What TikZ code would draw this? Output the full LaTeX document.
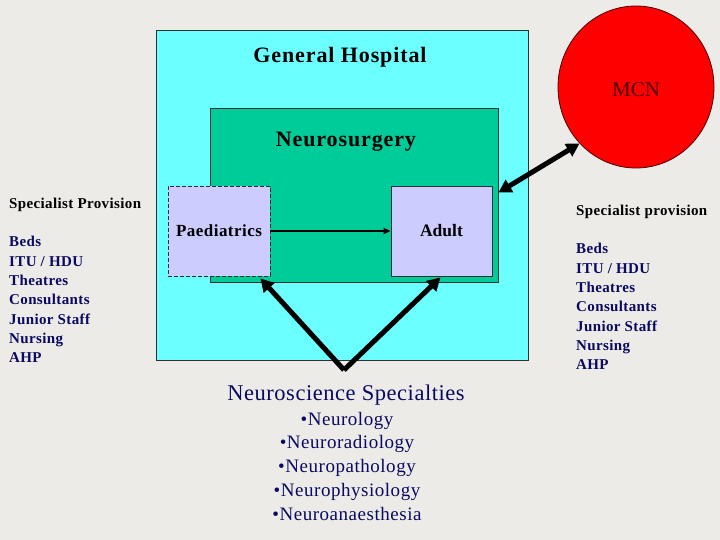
\documentclass[tikz,border=0pt]{standalone}
\usepackage{fontspec}
\setmainfont{Liberation Serif}
\usetikzlibrary{arrows.meta,shapes.geometric}
\definecolor{bgc}{HTML}{ECEBE7}
\definecolor{cyanbox}{HTML}{6CFFFF}
\definecolor{greenbox}{HTML}{00CC99}
\definecolor{lavbox}{HTML}{CCCCFF}
\definecolor{navytxt}{HTML}{0A0A60}
\definecolor{edgec}{HTML}{303030}
\definecolor{mcntxt}{HTML}{4A0000}
\tikzset{
  box/.style={draw=edgec, line width=0.8pt, inner sep=0pt},
  titletxt/.style={anchor=base, inner sep=0pt, font=\fontsize{22}{26}\selectfont\bfseries\addfontfeature{LetterSpace=4}, text=black},
  listhead/.style={anchor=base west, inner sep=0pt, font=\fontsize{15}{18}\selectfont\bfseries\addfontfeature{LetterSpace=2.5}, text=black},
  listtxt/.style={anchor=base west, inner sep=0pt, font=\fontsize{15}{18}\selectfont\bfseries\addfontfeature{LetterSpace=2.5}, text=navytxt},
  bigarrow/.style={line width=5pt, -{Triangle[length=13pt,width=14pt]}},
  dblarrow/.style={line width=5pt, {Triangle[length=13pt,width=14pt]}-{Triangle[length=13pt,width=14pt]}},
  thinarrow/.style={line width=1.6pt, -{Triangle[length=7pt,width=6pt]}},
}
\begin{document}
\begin{tikzpicture}[x=1pt,y=-1pt]
\fill[bgc] (0,0) rectangle (720,540);
\useasboundingbox (0,0) rectangle (720,540);
% boxes
\node[box, fill=cyanbox, minimum width=372pt, minimum height=330pt] (gh) at (342,195) {};
\node[titletxt] (ghlabel) at (340,63) {General Hospital};
\node[box, fill=greenbox, minimum width=288pt, minimum height=174pt] (ns) at (354,195) {};
\node[titletxt] (nslabel) at (346,147) {Neurosurgery};
\node[box, dashed, dash pattern=on 4pt off 2pt, fill=lavbox, minimum width=102pt, minimum height=90pt,
      font=\fontsize{17}{20}\selectfont\bfseries\addfontfeature{LetterSpace=2.7}] (paed) at (219,231) {Paediatrics};
\node[box, fill=lavbox, minimum width=101pt, minimum height=90pt,
      font=\fontsize{17.5}{20}\selectfont\bfseries] (adult) at (441.5,231) {Adult};
% MCN
\node[ellipse, draw=mcntxt, line width=0.8pt, fill=red, minimum width=156pt, minimum height=162pt, inner sep=0pt] (mcn) at (636,87) {};
\node[anchor=base, inner sep=0pt, font=\fontsize{21}{24}\selectfont, text=mcntxt] (mcnlabel) at (636,97) {MCN};
% connectors
\draw[thinarrow] (paed.east) -- (adult.west);
\coordinate (apex) at (344,370);
\draw[bigarrow] (apex) -- ([shift={(-10,2)}]paed.south east);
\draw[bigarrow] (apex) -- ([shift={(-1,1)}]adult.south);
\draw[dblarrow] ([shift={(6,7)}]adult.north east) -- (mcn.225);
% left list
\node[listhead] (lhead) at (9,209) {Specialist Provision};
\foreach \t [count=\i] in {Beds, ITU / HDU, Theatres, Consultants, Junior Staff, Nursing, AHP}
  \node[listtxt] (l\i) at (9,{247+19.3*(\i-1)}) {\t};
% right list
\node[listhead] (rhead) at (576,215) {Specialist provision};
\foreach \t [count=\i] in {Beds, ITU / HDU, Theatres, Consultants, Junior Staff, Nursing, AHP}
  \node[listtxt] (r\i) at (576,{254+19.3*(\i-1)}) {\t};
% neuroscience specialties
\node[anchor=base, inner sep=0pt, font=\fontsize{22.5}{26}\selectfont\addfontfeature{LetterSpace=2.4}, text=navytxt] (nss) at (346,400) {Neuroscience Specialties};
\foreach \t [count=\i] in {Neurology, Neuroradiology, Neuropathology, Neurophysiology, Neuroanaesthesia}
  \node[anchor=base, inner sep=0pt, font=\fontsize{19}{22}\selectfont\addfontfeature{LetterSpace=2.8}, text=navytxt] (b\i) at (347,{425+23.75*(\i-1)}) {•\t};
\end{tikzpicture}
\end{document}
